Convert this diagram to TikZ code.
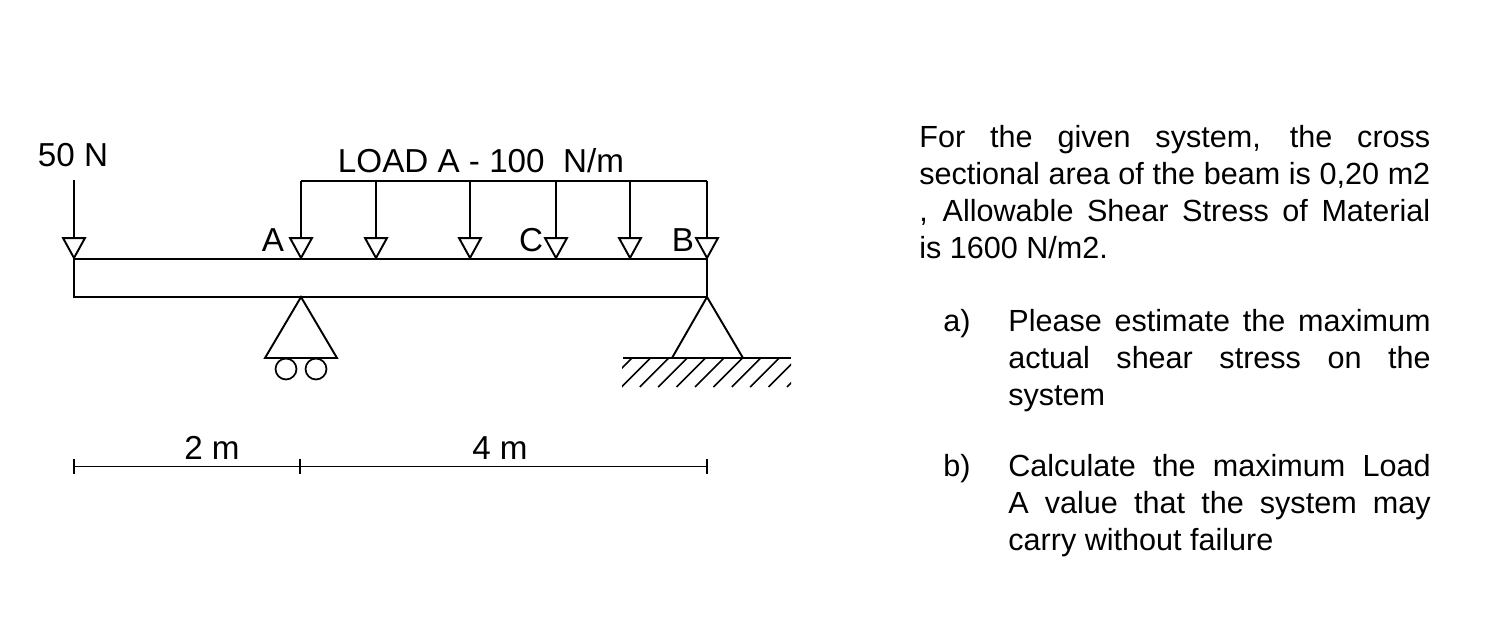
\documentclass[tikz,border=0pt]{standalone}
\usepackage{fontspec}
\setmainfont{Liberation Sans}
\usetikzlibrary{arrows.meta}
\tikzset{
  member/.style={line width=1.1pt, line join=miter},
  loadarrow/.style={member, -{Triangle[open, length=13pt, width=14pt, line width=1.1pt]}},
  thinline/.style={line width=0.9pt},
  lbl/.style={font=\fontsize{18.9}{21}\selectfont, inner sep=0pt},
  txt/.style={font=\fontsize{17.4}{20.98}\selectfont, inner sep=0pt},
  para/.style={txt, anchor=north west, align=justify, text width=#1},
  roller/.style={circle, draw, line width=1pt, inner sep=0pt, minimum size=21*0.5669pt}
}
\begin{document}
\begin{tikzpicture}[x=0.02cm, y=-0.02cm]
    \useasboundingbox (0,0) rectangle (1507,622);

    % Beam
    \coordinate (beamTL) at (74,259);
    \coordinate (beamTR) at (707,259);
    \coordinate (beamBR) at (707,297);
    \coordinate (beamBL) at (74,297);
    \draw[member] (beamTL) -- (beamTR) -- (beamBR) -- (beamBL) -- cycle;

    % Load arrows
    \coordinate (barL) at (301,181);
    \coordinate (barR) at (707,181);
    \draw[member] (barL) -- (barR);
    \coordinate (pointTop) at (74,180);
    \coordinate (pointTip) at (74,260);
    \draw[loadarrow] (pointTop) -- (pointTip);
    \foreach \name/\x in {a/301, d/376, e/470, c/556, f/630, b/707} {
      \coordinate (\name Top) at (\x,181);
      \coordinate (\name Tip) at (\x,260);
      \draw[loadarrow] (\name Top) -- (\name Tip);
    }

    % Labels on the load
    \node[lbl] (force) at (73,155) {50 N};
    \node[lbl] (loadA) at (481,161) {LOAD A - 100\ \ N/m};
    \node[lbl] (labelA) at (273,240) {A};
    \node[lbl] (labelC) at (531,240) {C};
    \node[lbl] (labelB) at (683,240) {B};

    % Roller support
    \coordinate (rollTop) at (301,297);
    \coordinate (rollL) at (265,358);
    \coordinate (rollR) at (337,358);
    \draw[member] (rollTop) -- (rollL) -- (rollR) -- cycle;
    \node[roller] (rollerOne) at (286,369) {};
    \node[roller] (rollerTwo) at (316,369) {};

    % Pin support and ground
    \coordinate (pinTop) at (707,297);
    \coordinate (pinL) at (672,358);
    \coordinate (pinR) at (743,358);
    \draw[member] (pinTop) -- (pinL) -- (pinR) -- cycle;
    \coordinate (groundL) at (623,358);
    \coordinate (groundR) at (791,358);
    \draw[member] (groundL) -- (groundR);
    \begin{scope}
      \clip (622,358) rectangle (791,387);
      \foreach \k in {0,...,10} {
        \draw[thinline] (632+18.4*\k,358) -- ++(-29,29);
      }
    \end{scope}

    % Dimension line
    \coordinate (dimL) at (74,466.5);
    \coordinate (dimM) at (300,466.5);
    \coordinate (dimR) at (707,466.5);
    \draw[member] (dimL) -- (dimR);
    \foreach \p in {dimL, dimM, dimR} {
      \draw[line width=0.6pt] ([yshift=4.5pt]\p) -- ([yshift=-4.5pt]\p);
    }
    \node[lbl] (spanOne) at (212,448) {2 m};
    \node[lbl] (spanTwo) at (500,448) {4 m};

    % Question text
    \node[para=513*0.5669pt] (intro) at (919,125) {For the given system, the cross\linebreak sectional area of the beam is 0,20 m2\linebreak , Allowable Shear Stress of Material\linebreak is 1600 N/m2.};
    \node[txt, anchor=north west] (partA) at (943,309) {a)};
    \node[para=424*0.5669pt] (textA) at (1008,309) {Please estimate the maximum\linebreak actual shear stress on the\linebreak system};
    \node[txt, anchor=north west] (partB) at (943,454) {b)};
    \node[para=424*0.5669pt] (textB) at (1008,454) {Calculate the maximum Load\linebreak A value that the system may\linebreak carry without failure};
\end{tikzpicture}
\end{document}
